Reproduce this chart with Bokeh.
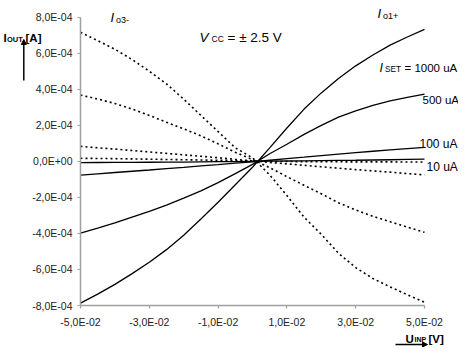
from bokeh.plotting import figure
from bokeh.models import Range1d, FixedTicker, Label, Arrow, NormalHead
from bokeh.embed import file_html
from bokeh.resources import INLINE

# ---- data (U_INP in V, I_OUT in A) ----
u_inp = [-0.05, -0.045, -0.04, -0.035, -0.03, -0.025, -0.02, -0.015, -0.01, -0.005, 0.0,
         0.005, 0.01, 0.015, 0.02, 0.025, 0.03, 0.035, 0.04, 0.045, 0.05]

# I_o1+ (solid)
io1_1000 = [-7.87e-4, -7.37e-4, -6.83e-4, -6.23e-4, -5.6e-4, -4.9e-4, -4.1e-4, -3.2e-4, -2.27e-4, -1.3e-4, -0.33e-4,
            0.75e-4, 1.85e-4, 2.9e-4, 3.8e-4, 4.6e-4, 5.3e-4, 5.9e-4, 6.45e-4, 6.9e-4, 7.32e-4]
io1_500 = [-3.98e-4, -3.71e-4, -3.42e-4, -3.1e-4, -2.78e-4, -2.43e-4, -2.04e-4, -1.64e-4, -1.18e-4, -0.68e-4, -0.17e-4,
           0.42e-4, 0.95e-4, 1.5e-4, 2.0e-4, 2.45e-4, 2.8e-4, 3.1e-4, 3.35e-4, 3.55e-4, 3.73e-4]
io1_100 = [-0.76e-4, -0.69e-4, -0.62e-4, -0.55e-4, -0.48e-4, -0.40e-4, -0.33e-4, -0.25e-4, -0.18e-4, -0.1e-4, -0.03e-4,
           0.06e-4, 0.15e-4, 0.23e-4, 0.32e-4, 0.4e-4, 0.48e-4, 0.56e-4, 0.64e-4, 0.71e-4, 0.78e-4]
io1_10 = [-0.07e-4, -0.065e-4, -0.06e-4, -0.055e-4, -0.05e-4, -0.045e-4, -0.04e-4, -0.03e-4, -0.02e-4, -0.01e-4, 0.0,
          0.01e-4, 0.02e-4, 0.03e-4, 0.04e-4, 0.05e-4, 0.06e-4, 0.075e-4, 0.09e-4, 0.105e-4, 0.12e-4]

# I_o3- (dotted)
io3_1000 = [7.16e-4, 6.7e-4, 6.22e-4, 5.65e-4, 5.0e-4, 4.3e-4, 3.45e-4, 2.55e-4, 1.65e-4, 0.75e-4, 0.2e-4,
            -0.75e-4, -1.9e-4, -3.1e-4, -4.05e-4, -5.1e-4, -5.9e-4, -6.5e-4, -6.97e-4, -7.4e-4, -7.82e-4]
io3_500 = [3.68e-4, 3.46e-4, 3.21e-4, 2.9e-4, 2.55e-4, 2.17e-4, 1.8e-4, 1.42e-4, 0.97e-4, 0.5e-4, 0.1e-4,
           -0.35e-4, -0.85e-4, -1.33e-4, -1.8e-4, -2.3e-4, -2.7e-4, -3.05e-4, -3.35e-4, -3.65e-4, -3.94e-4]
io3_100 = [0.83e-4, 0.75e-4, 0.68e-4, 0.6e-4, 0.52e-4, 0.44e-4, 0.36e-4, 0.28e-4, 0.2e-4, 0.11e-4, 0.03e-4,
           -0.06e-4, -0.14e-4, -0.22e-4, -0.3e-4, -0.38e-4, -0.46e-4, -0.53e-4, -0.6e-4, -0.68e-4, -0.75e-4]
io3_10 = [0.17e-4, 0.16e-4, 0.15e-4, 0.135e-4, 0.12e-4, 0.105e-4, 0.09e-4, 0.075e-4, 0.06e-4, 0.04e-4, 0.02e-4,
          0.0, -0.01e-4, -0.015e-4, -0.02e-4, -0.025e-4, -0.03e-4, -0.03e-4, -0.03e-4, -0.035e-4, -0.04e-4]

xtick_vals = [-0.05, -0.03, -0.01, 0.01, 0.03, 0.05]
xtick_labels = ["-5,0E-02", "-3,0E-02", "-1,0E-02", "1,0E-02", "3,0E-02", "5,0E-02"]
ytick_vals = [-8e-4, -6e-4, -4e-4, -2e-4, 0.0, 2e-4, 4e-4, 6e-4, 8e-4]
ytick_labels = ["-8,0E-04", "-6,0E-04", "-4,0E-04", "-2,0E-04", "0,0E+00", "2,0E-04", "4,0E-04", "6,0E-04", "8,0E-04"]

X_MIN, X_MAX = -0.05, 0.05
Y_MIN, Y_MAX = -8e-4, 8e-4

FONT = "Liberation Sans"

# canvas geometry: the plotting box occupies canvas x 80..424, y 16.7..305
W, H = 458, 347
BOX_L, BOX_R, BOX_T, BOX_B = 80, 424, 16.7, 305
XPX = (BOX_R - BOX_L) / (X_MAX - X_MIN)
YPX = (BOX_B - BOX_T) / (Y_MAX - Y_MIN)
x_range = Range1d(X_MIN - BOX_L / XPX, X_MAX + (W - BOX_R) / XPX)
y_range = Range1d(Y_MIN - (H - BOX_B) / YPX, Y_MAX + BOX_T / YPX)

p = figure(width=W, height=H, output_backend="svg", toolbar_location=None,
           x_range=x_range, y_range=y_range,
           min_border=0, title=None)
p.outline_line_color = None
p.xgrid.visible = False
p.ygrid.visible = False

for ax in (p.xaxis[0], p.yaxis[0]):
    ax.axis_line_color = "#a0a0a0"
    ax.axis_line_width = 1.5
    ax.major_tick_line_color = "#a0a0a0"
    ax.major_tick_line_width = 1.2
    ax.major_tick_out = 3
    ax.major_tick_in = 0
    ax.minor_tick_line_color = None
    ax.major_label_text_font = FONT
    ax.major_label_text_font_size = "10.5px"
    ax.major_label_text_color = "#222222"

p.xaxis[0].fixed_location = Y_MIN
p.xaxis[0].bounds = (X_MIN, X_MAX)
p.xaxis[0].ticker = FixedTicker(ticks=xtick_vals)
p.xaxis[0].major_label_overrides = dict(zip(xtick_vals, xtick_labels))
p.xaxis[0].major_label_standoff = 7
p.yaxis[0].fixed_location = X_MIN
p.yaxis[0].bounds = (Y_MIN, Y_MAX)
p.yaxis[0].ticker = FixedTicker(ticks=ytick_vals)
p.yaxis[0].major_label_overrides = dict(zip(ytick_vals, ytick_labels))
p.yaxis[0].major_label_standoff = 5

for ys in (io1_1000, io1_500, io1_100, io1_10):
    p.line(u_inp, ys, line_color="black", line_width=1.3)
for ys in (io3_1000, io3_500, io3_100, io3_10):
    p.line(u_inp, ys, line_color="black", line_width=1.6, line_dash="2 3")


# helpers: canvas pixel -> data coordinates, for annotation placement
def dx(xc):
    return x_range.start + xc / XPX


def dy(yc):
    return y_range.end - yc / YPX


def lab(text, xc, yc, size, style="normal"):
    p.add_layout(Label(x=dx(xc), y=dy(yc), text=text, text_font=FONT,
                       text_font_size=size, text_font_style=style,
                       text_color="black", text_align="left",
                       text_baseline="alphabetic"))


# y-axis title with arrow
lab("I", 3, 37.5, "11.5px", "bold")
lab("OUT", 6.5, 38.5, "7.5px", "bold")
lab("[A]", 25, 37.5, "11.5px", "bold")
p.add_layout(Arrow(end=NormalHead(size=5, fill_color="black", line_color="black"),
                   x_start=dx(23.3), y_start=dy(80), x_end=dx(23.3), y_end=dy(39),
                   line_color="black", line_width=1.5))

# x-axis title with arrow
lab("U", 405, 338, "11.5px", "bold")
lab("INP", 414, 338.5, "7px", "bold")
lab("[V]", 428, 338, "11.5px", "bold")
p.add_layout(Arrow(end=NormalHead(size=5, fill_color="black", line_color="black"),
                   x_start=dx(395), y_start=dy(344), x_end=dx(427), y_end=dy(344),
                   line_color="black", line_width=1.5))

# curve family labels
lab("I", 110, 17, "13px", "italic")
lab("o3-", 115.5, 19, "9px")
lab("I", 377, 13, "13px", "italic")
lab("o1+", 382.5, 15, "9px")

lab("V", 199, 37, "13.5px", "italic")
lab("CC", 211, 38.5, "8.5px")
lab("= \u00b1 2.5 V", 227, 37, "13.5px")

lab("I", 379, 67, "12.5px", "italic")
lab("SET", 384.5, 68.5, "8.3px")
lab("= 1000 uA", 404, 67, "11.5px")
lab("500 uA", 422, 99, "11.5px")
lab("100 uA", 419, 143, "12px")
lab("10 uA", 426, 166, "12px")

open("out.html", "w").write(file_html(p, INLINE))
